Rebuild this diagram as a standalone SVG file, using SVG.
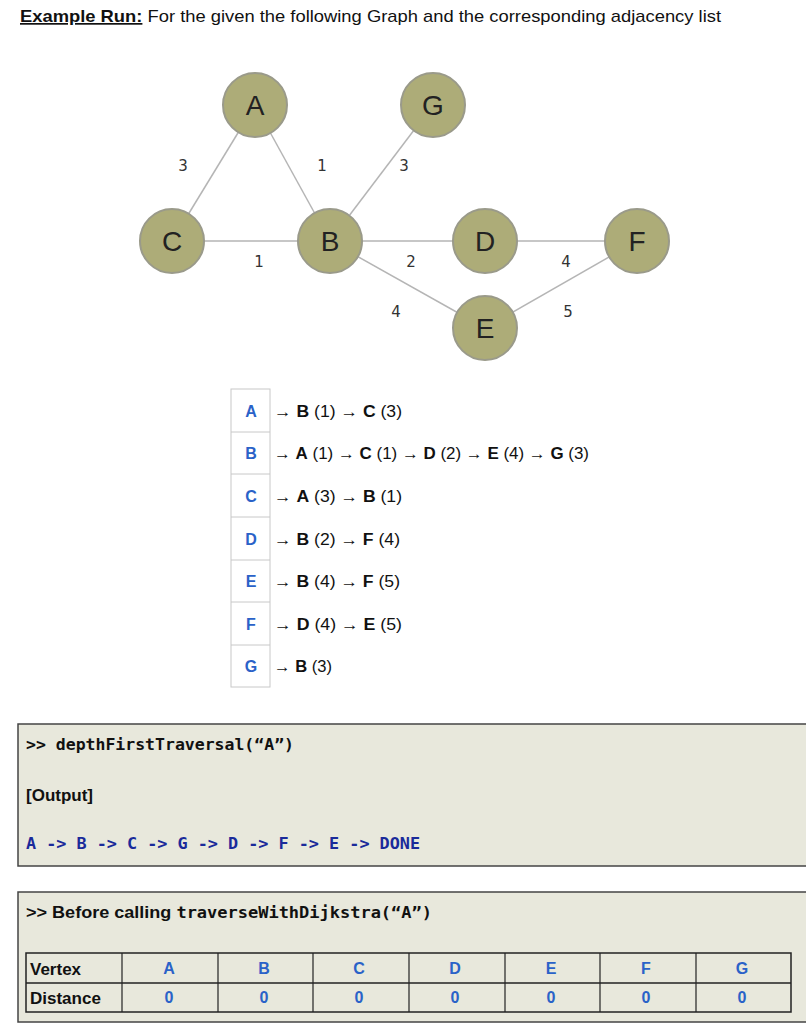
<svg xmlns="http://www.w3.org/2000/svg" width="806" height="1024" viewBox="0 0 806 1024">
<style>
.n circle{fill:#adac78;stroke:#9a9a8a;stroke-width:2}
.n text{font-family:"Liberation Sans",Arial,sans-serif;font-size:28px;text-anchor:middle;fill:#222}
.e line{stroke:#b5b5b5;stroke-width:1.5}
.w{font-family:"DejaVu Sans","Liberation Sans",sans-serif;font-size:15px;text-anchor:middle;fill:#333}
.k{font-family:"Liberation Sans",Arial,sans-serif;font-size:16px;font-weight:bold;fill:#2a62c8;text-anchor:middle}
.l{font-family:"Liberation Sans",Arial,sans-serif;font-size:16px;fill:#111}
.l tspan.b{font-weight:bold}
.m{font-family:"DejaVu Sans Mono","Liberation Mono",monospace;font-size:16px;font-weight:bold}
.s{font-family:"Liberation Sans",Arial,sans-serif;font-size:17px;font-weight:bold;fill:#111}
.tv{font-family:"Liberation Sans",Arial,sans-serif;font-size:16px;font-weight:bold;fill:#2a62c8;text-anchor:middle}
</style>
<rect width="806" height="1024" fill="#fff"/>
<text x="20" y="22" font-family="Liberation Sans,Arial,sans-serif" font-size="17" fill="#111" textLength="701" lengthAdjust="spacingAndGlyphs"><tspan font-weight="bold" text-decoration="underline">Example Run:</tspan> For the given the following Graph and the corresponding adjacency list</text>
<g id="edges" class="e">
<line x1="255" y1="105" x2="172" y2="241"/>
<line x1="255" y1="105" x2="330" y2="241"/>
<line x1="433" y1="105" x2="330" y2="241"/>
<line x1="172" y1="241" x2="330" y2="241"/>
<line x1="330" y1="241" x2="485" y2="241"/>
<line x1="485" y1="241" x2="637" y2="241"/>
<line x1="330" y1="241" x2="485" y2="328"/>
<line x1="485" y1="328" x2="637" y2="241"/>
</g>
<g id="weights">
<text class="w" x="183" y="171">3</text>
<text class="w" x="322" y="171">1</text>
<text class="w" x="404" y="171">3</text>
<text class="w" x="259" y="267">1</text>
<text class="w" x="411" y="267">2</text>
<text class="w" x="566" y="267">4</text>
<text class="w" x="396" y="317">4</text>
<text class="w" x="568" y="317">5</text>
</g>
<g id="A" class="n"><circle cx="255" cy="105" r="32"/><text x="255" y="115">A</text></g>
<g id="G" class="n"><circle cx="433" cy="105" r="32"/><text x="433" y="115">G</text></g>
<g id="C" class="n"><circle cx="172" cy="241" r="32"/><text x="172" y="251">C</text></g>
<g id="B" class="n"><circle cx="330" cy="241" r="32"/><text x="330" y="251">B</text></g>
<g id="D" class="n"><circle cx="485" cy="241" r="32"/><text x="485" y="251">D</text></g>
<g id="F" class="n"><circle cx="637" cy="241" r="32"/><text x="637" y="251">F</text></g>
<g id="E" class="n"><circle cx="485" cy="328" r="32"/><text x="485" y="338">E</text></g>
<g id="adjacency">
<rect x="231" y="389" width="39" height="298" fill="#fff" stroke="#c8c8c8"/>
<g stroke="#c8c8c8"><line x1="231" y1="432" x2="270" y2="432"/><line x1="231" y1="474" x2="270" y2="474"/><line x1="231" y1="517" x2="270" y2="517"/><line x1="231" y1="560" x2="270" y2="560"/><line x1="231" y1="602" x2="270" y2="602"/><line x1="231" y1="645" x2="270" y2="645"/></g>
<text class="k" x="251" y="417">A</text><text class="k" x="251" y="459">B</text><text class="k" x="251" y="502">C</text><text class="k" x="251" y="545">D</text><text class="k" x="251" y="587">E</text><text class="k" x="251" y="630">F</text><text class="k" x="251" y="672">G</text>
<text class="l" x="274" y="417" textLength="128" lengthAdjust="spacingAndGlyphs">→ <tspan class="b">B</tspan> (1) → <tspan class="b">C</tspan> (3)</text>
<text class="l" x="274" y="459" textLength="315" lengthAdjust="spacingAndGlyphs">→ <tspan class="b">A</tspan> (1) → <tspan class="b">C</tspan> (1) → <tspan class="b">D</tspan> (2) → <tspan class="b">E</tspan> (4) → <tspan class="b">G</tspan> (3)</text>
<text class="l" x="274" y="502" textLength="128" lengthAdjust="spacingAndGlyphs">→ <tspan class="b">A</tspan> (3) → <tspan class="b">B</tspan> (1)</text>
<text class="l" x="274" y="545" textLength="126" lengthAdjust="spacingAndGlyphs">→ <tspan class="b">B</tspan> (2) → <tspan class="b">F</tspan> (4)</text>
<text class="l" x="274" y="587" textLength="126" lengthAdjust="spacingAndGlyphs">→ <tspan class="b">B</tspan> (4) → <tspan class="b">F</tspan> (5)</text>
<text class="l" x="274" y="630" textLength="128" lengthAdjust="spacingAndGlyphs">→ <tspan class="b">D</tspan> (4) → <tspan class="b">E</tspan> (5)</text>
<text class="l" x="274" y="672" textLength="58" lengthAdjust="spacingAndGlyphs">→ <tspan class="b">B</tspan> (3)</text>
</g>
<g id="dfs">
<rect x="18" y="724" width="790" height="142" fill="#e8e8dc" stroke="#444" stroke-width="1.5"/>
<text class="m" x="26" y="750" fill="#111" textLength="268" lengthAdjust="spacingAndGlyphs">&gt;&gt; depthFirstTraversal(“A”)</text>
<text class="s" x="26" y="801">[Output]</text>
<text class="m" x="26" y="849" fill="#1a2a9a" textLength="394" lengthAdjust="spacingAndGlyphs">A -&gt; B -&gt; C -&gt; G -&gt; D -&gt; F -&gt; E -&gt; DONE</text>
</g>
<g id="dijkstra">
<rect x="18" y="892" width="790" height="130" fill="#e8e8dc" stroke="#444" stroke-width="1.5"/>
<text x="26" y="918" textLength="406" lengthAdjust="spacingAndGlyphs"><tspan class="s">&gt;&gt; Before calling </tspan><tspan class="m" fill="#111">traverseWithDijkstra(“A”)</tspan></text>
<rect x="26" y="953" width="765" height="59" fill="none" stroke="#222" stroke-width="1.5"/>
<line x1="26" y1="983" x2="791" y2="983" stroke="#222" stroke-width="1.5"/>
<g stroke="#222" stroke-width="1.2"><line x1="122" y1="953" x2="122" y2="1012"/><line x1="218" y1="953" x2="218" y2="1012"/><line x1="313" y1="953" x2="313" y2="1012"/><line x1="409" y1="953" x2="409" y2="1012"/><line x1="505" y1="953" x2="505" y2="1012"/><line x1="600" y1="953" x2="600" y2="1012"/><line x1="696" y1="953" x2="696" y2="1012"/></g>
<text class="s" x="30" y="975">Vertex</text><text class="s" x="30" y="1004">Distance</text>
<text class="tv" x="169" y="974">A</text><text class="tv" x="264" y="974">B</text><text class="tv" x="359" y="974">C</text><text class="tv" x="455" y="974">D</text><text class="tv" x="551" y="974">E</text><text class="tv" x="646" y="974">F</text><text class="tv" x="742" y="974">G</text>
<text class="tv" x="169" y="1003">0</text><text class="tv" x="264" y="1003">0</text><text class="tv" x="359" y="1003">0</text><text class="tv" x="455" y="1003">0</text><text class="tv" x="551" y="1003">0</text><text class="tv" x="646" y="1003">0</text><text class="tv" x="742" y="1003">0</text>
</g>
</svg>
